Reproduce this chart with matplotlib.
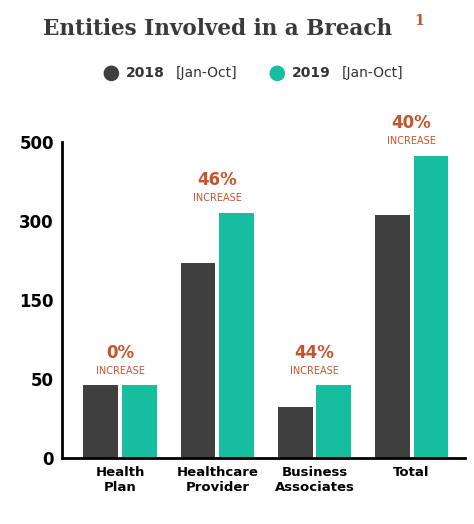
import numpy as np
import matplotlib
matplotlib.use("Agg")
import matplotlib.pyplot as plt

categories = ["Health\nPlan", "Healthcare\nProvider", "Business\nAssociates", "Total"]
v2018 = [46, 220, 32, 315]
v2019 = [46, 321, 46, 465]
increase = ["0%", "46%", "44%", "40%"]
yticks = [0, 50, 150, 300, 500]

tk = np.array(yticks, float)
pos = np.arange(len(yticks), dtype=float)
def fwd(v):
    v = np.asarray(v, float)
    return np.interp(v, tk, pos) + np.where(v > 500, (v - 500) / 200, 0)
def inv(p):
    p = np.asarray(p, float)
    return np.interp(p, pos, tk) + np.where(p > 4, (p - 4) * 200, 0)

dark = "#3f3f3f"; teal = "#16bd9e"; orange = "#c4552c"
fig = plt.figure(figsize=(4.74, 5.24), dpi=100)
ax = fig.add_axes([0.131, 0.126, 0.85, 0.603])
ax.set_yscale("function", functions=(fwd, inv))
x = np.arange(len(categories))
w = 0.36
ax.bar(x - w/2 - 0.02, v2018, w, color=dark)
ax.bar(x + w/2 + 0.02, v2019, w, color=teal)
ax.set_ylim(0, 500)
ax.set_xlim(-0.6, 3.55)
ax.set_yticks(yticks)
ax.set_yticklabels([str(t) for t in yticks], fontweight="bold", fontsize=12)
ax.set_xticks(x)
ax.set_xticklabels(categories, fontweight="bold", fontsize=9.5)
ax.tick_params(length=0, pad=6)
for s in ["top", "right"]:
    ax.spines[s].set_visible(False)
for s in ["left", "bottom"]:
    ax.spines[s].set_linewidth(2)
for i in range(len(categories)):
    top = max(v2018[i], v2019[i])
    ax.text(x[i], inv(fwd(top) + 0.3), increase[i], ha="center", va="bottom", color=orange,
            fontsize=12, fontweight="bold", clip_on=False)
    ax.text(x[i], inv(fwd(top) + 0.12), "INCREASE", ha="center", va="bottom", color=orange,
            fontsize=7, clip_on=False)
fig.text(0.46, 0.945, "Entities Involved in a Breach", ha="center", va="center",
         fontsize=15.5, fontweight="bold", family="DejaVu Serif", color="#3a3a3a")
fig.text(0.885, 0.96, "1", ha="center", va="center", fontsize=10, fontweight="bold", color=orange, family="DejaVu Serif")
fig.patches.append(matplotlib.patches.Ellipse((0.235, 0.86), 0.03, 0.03*474/524, transform=fig.transFigure, color=dark))
fig.text(0.265, 0.86, "2018", fontweight="bold", fontsize=10, va="center", color="#333")
fig.text(0.37, 0.86, "[Jan-Oct]", fontsize=10, va="center", color="#333")
fig.patches.append(matplotlib.patches.Ellipse((0.585, 0.86), 0.03, 0.03*474/524, transform=fig.transFigure, color=teal))
fig.text(0.615, 0.86, "2019", fontweight="bold", fontsize=10, va="center", color="#333")
fig.text(0.72, 0.86, "[Jan-Oct]", fontsize=10, va="center", color="#333")
fig.savefig("out.png", dpi=100)
